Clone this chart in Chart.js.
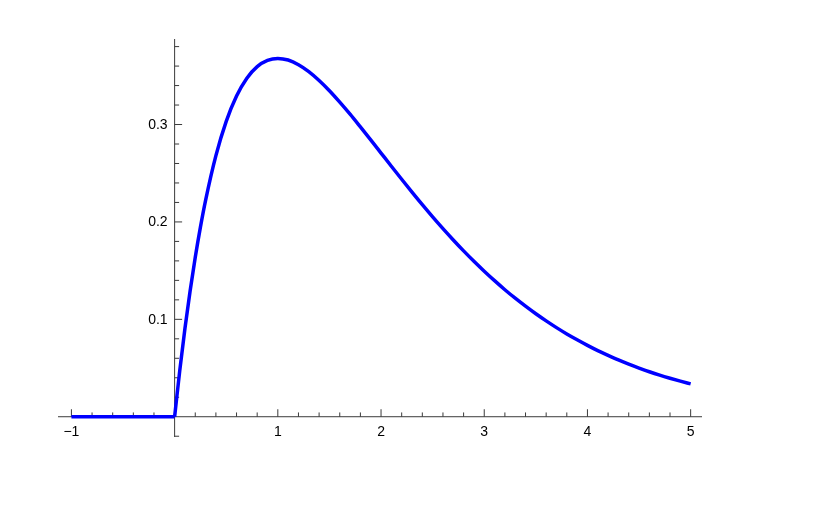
<!DOCTYPE html>
<html>
<head>
<meta charset="utf-8">
<script src="https://cdn.jsdelivr.net/npm/chart.js@4"></script>
<style>
html,body{margin:0;padding:0;background:#fff;}
#c{display:block;}
</style>
</head>
<body>
<canvas id="c" width="830" height="512"></canvas>
<script>
// Flat part of the curve (x < 0)
const flatX = [-1, -0.5, 0];
const flatY = [0, 0, 0];
// Curve part (x >= 0)
const curveX = [0, 0.05, 0.1, 0.15, 0.2, 0.25, 0.3, 0.4, 0.5, 0.6, 0.7, 0.8, 0.9, 1.0,
  1.1, 1.2, 1.3, 1.4, 1.5, 1.6, 1.7, 1.8, 1.9, 2.0, 2.1, 2.2, 2.3, 2.4, 2.5, 2.6, 2.7,
  2.8, 2.9, 3.0, 3.1, 3.2, 3.3, 3.4, 3.5, 3.6, 3.7, 3.8, 3.9, 4.0, 4.1, 4.2, 4.3, 4.4,
  4.5, 4.6, 4.7, 4.8, 4.9, 5.0];
const curveY = [0, 0.0476, 0.0905, 0.1291, 0.1637, 0.1947, 0.2222, 0.2681, 0.3033, 0.3293,
  0.3476, 0.3595, 0.3659, 0.3679, 0.3662, 0.3614, 0.3543, 0.3452, 0.3347, 0.3230, 0.3106,
  0.2975, 0.2842, 0.2707, 0.2572, 0.2438, 0.2306, 0.2177, 0.2052, 0.1931, 0.1815, 0.1703,
  0.1596, 0.1494, 0.1397, 0.1304, 0.1217, 0.1135, 0.1057, 0.0984, 0.0915, 0.0850, 0.0790,
  0.0733, 0.0679, 0.0630, 0.0583, 0.0540, 0.0500, 0.0462, 0.0427, 0.0395, 0.0365, 0.0337];
// Tick labels
const xTickValues = [-1, 1, 2, 3, 4, 5];
const xTickLabels = ['\u22121', '1', '2', '3', '4', '5'];
const yTickValues = [0.1, 0.2, 0.3];
const yTickLabels = ['0.1', '0.2', '0.3'];
const xMinorStep = 0.2;
const yMinorStep = 0.02;

const X_MIN = -1.13, X_MAX = 5.11, Y_MIN = -0.0208, Y_MAX = 0.3878;

const toPts = (xs, ys) => xs.map((x, i) => ({x: x, y: ys[i]}));

const axesPlugin = {
  id: 'mmaAxes',
  beforeDatasetsDraw(chart) {
    const ctx = chart.ctx;
    const xs = chart.scales.x, ys = chart.scales.y;
    const x0 = xs.getPixelForValue(0);
    const y0 = ys.getPixelForValue(0);
    const ca = chart.chartArea;
    ctx.save();
    ctx.strokeStyle = '#3a3a3a';
    ctx.lineWidth = 1;
    // x axis
    ctx.beginPath();
    ctx.moveTo(ca.left, y0);
    ctx.lineTo(ca.right, y0);
    ctx.stroke();
    // y axis
    ctx.beginPath();
    ctx.moveTo(x0, ca.top);
    ctx.lineTo(x0, ca.bottom);
    ctx.stroke();
    // x ticks
    for (let i = -5; i <= 25; i++) {
      const v = i * xMinorStep;
      if (Math.abs(v) < 1e-9) continue;
      const px = xs.getPixelForValue(v);
      if (px < ca.left || px > ca.right) continue;
      const major = (i % 5 === 0);
      ctx.beginPath();
      ctx.moveTo(px, y0);
      ctx.lineTo(px, y0 - (major ? 7.5 : 4.3));
      ctx.stroke();
    }
    // y ticks
    for (let i = -1; i <= 19; i++) {
      const v = i * yMinorStep;
      if (i === 0) continue;
      const py = ys.getPixelForValue(v);
      if (py < ca.top - 0.5 || py > ca.bottom + 0.5) continue;
      const major = (i % 5 === 0);
      ctx.beginPath();
      ctx.moveTo(x0, py);
      ctx.lineTo(x0 + (major ? 7.5 : 4.5), py);
      ctx.stroke();
    }
    // labels
    ctx.fillStyle = '#000';
    ctx.font = '14px "Liberation Sans", Arial, sans-serif';
    ctx.textAlign = 'center';
    ctx.textBaseline = 'middle';
    xTickValues.forEach((v, i) => {
      ctx.fillText(xTickLabels[i], xs.getPixelForValue(v), y0 + 15);
    });
    ctx.textAlign = 'right';
    yTickValues.forEach((v, i) => {
      ctx.fillText(yTickLabels[i], x0 - 7, ys.getPixelForValue(v) + 0.5);
    });
    ctx.restore();
  }
};

new Chart(document.getElementById('c'), {
  type: 'line',
  data: {
    datasets: [
      {data: toPts(flatX, flatY), borderColor: '#0000ff', borderWidth: 3.5, pointRadius: 0, tension: 0, fill: false},
      {data: toPts(curveX, curveY), borderColor: '#0000ff', borderWidth: 3.5, pointRadius: 0, cubicInterpolationMode: 'monotone', fill: false}
    ]
  },
  options: {
    responsive: false,
    animation: false,
    layout: {padding: {left: 58, right: 128, top: 39, bottom: 75}},
    plugins: {legend: {display: false}, tooltip: {enabled: false}},
    scales: {
      x: {type: 'linear', display: false, min: X_MIN, max: X_MAX},
      y: {type: 'linear', display: false, min: Y_MIN, max: Y_MAX}
    }
  },
  plugins: [axesPlugin]
});
</script>
</body>
</html>
